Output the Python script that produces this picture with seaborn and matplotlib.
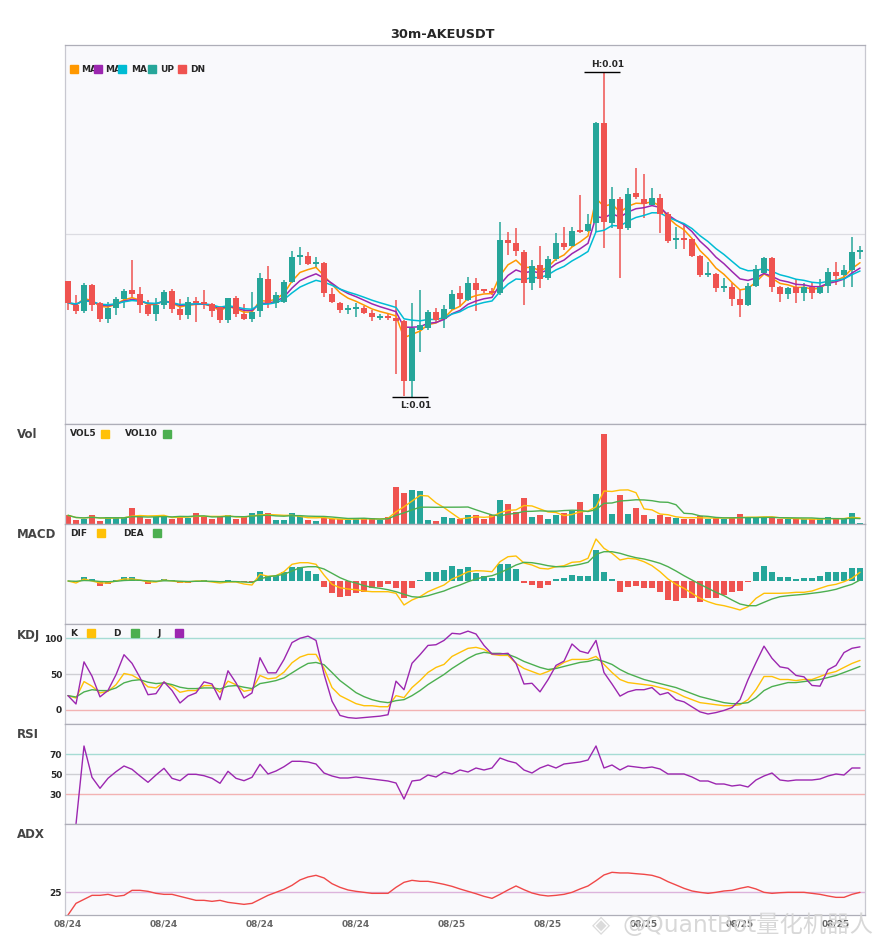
"""30m AKEUSDT candlestick chart with Vol / MACD / KDJ / RSI / ADX panels."""

import matplotlib
matplotlib.use("Agg")
import matplotlib.pyplot as plt
from matplotlib.patches import Rectangle
import numpy as np
import pandas as pd
import seaborn as sns

sns.set_theme(style="white")
plt.rcParams["font.family"] = ["DejaVu Sans", "Noto Sans CJK SC"]

SYMBOL = "30m-AKEUSDT"

# 30m candles, prices in 1e-6 USDT
open_u = [
    9770, 9650, 9620, 9750, 9660, 9580, 9635, 9680, 9725, 9705,
    9650, 9605, 9650, 9720, 9630, 9600, 9670, 9660, 9655, 9640,
    9575, 9685, 9605, 9580, 9620, 9780, 9660, 9665, 9765, 9890,
    9895, 9855, 9860, 9705, 9660, 9625, 9630, 9635, 9610, 9585,
    9590, 9585, 9570, 9265, 9525, 9535, 9615, 9580, 9630, 9710,
    9675, 9760, 9725, 9715, 9710, 9975, 9960, 9915, 9760, 9850,
    9785, 9880, 9960, 9945, 10020, 10020, 10060, 10560, 10060, 10180,
    10035, 10210, 10180, 10150, 10185, 10105, 9975, 9980, 9980, 9895,
    9800, 9805, 9735, 9740, 9680, 9650, 9745, 9810, 9885, 9740,
    9705, 9740, 9710, 9740, 9710, 9745, 9815, 9800, 9825, 9915,
]
high_u = [
    9770, 9700, 9760, 9755, 9665, 9665, 9690, 9730, 9875, 9740,
    9675, 9685, 9725, 9730, 9680, 9690, 9690, 9725, 9660, 9645,
    9685, 9695, 9655, 9715, 9810, 9845, 9715, 9775, 9920, 9940,
    9915, 9890, 9865, 9735, 9665, 9650, 9660, 9645, 9625, 9605,
    9605, 9675, 9575, 9660, 9725, 9625, 9635, 9650, 9725, 9745,
    9790, 9785, 9730, 9735, 10065, 10015, 10035, 9925, 9875, 9945,
    9895, 10010, 10040, 10040, 10200, 10105, 10565, 10820, 10240, 10190,
    10235, 10335, 10305, 10235, 10205, 10115, 10040, 10050, 9985, 9900,
    9865, 9810, 9785, 9760, 9725, 9760, 9850, 9890, 9890, 9745,
    9740, 9780, 9760, 9765, 9780, 9835, 9865, 9850, 9990, 9945,
]
low_u = [
    9625, 9605, 9610, 9620, 9565, 9560, 9600, 9635, 9685, 9610,
    9595, 9570, 9630, 9610, 9575, 9580, 9565, 9630, 9590, 9560,
    9560, 9590, 9575, 9565, 9590, 9635, 9635, 9660, 9760, 9850,
    9850, 9835, 9690, 9660, 9610, 9605, 9590, 9605, 9570, 9575,
    9575, 9300, 9190, 9185, 9410, 9525, 9560, 9535, 9625, 9640,
    9670, 9620, 9710, 9700, 9700, 9900, 9895, 9650, 9725, 9735,
    9775, 9870, 9925, 9940, 10010, 10015, 10015, 9935, 10035, 9785,
    10025, 10180, 10085, 10145, 10010, 9960, 9930, 9930, 9890, 9790,
    9790, 9715, 9715, 9645, 9590, 9645, 9740, 9805, 9715, 9665,
    9680, 9660, 9670, 9680, 9705, 9710, 9750, 9740, 9740, 9880,
]
close_u = [
    9660, 9620, 9750, 9650, 9580, 9635, 9680, 9720, 9705, 9650,
    9605, 9650, 9715, 9630, 9600, 9665, 9660, 9655, 9620, 9575,
    9685, 9605, 9580, 9615, 9785, 9660, 9700, 9765, 9890, 9900,
    9855, 9860, 9710, 9665, 9625, 9630, 9635, 9610, 9590, 9590,
    9585, 9570, 9265, 9535, 9550, 9615, 9575, 9630, 9705, 9680,
    9760, 9725, 9720, 9710, 9975, 9960, 9920, 9760, 9845, 9780,
    9880, 9960, 9940, 10020, 10015, 10055, 10560, 10065, 10180, 10030,
    10205, 10190, 10155, 10185, 10105, 9970, 9980, 9975, 9895, 9800,
    9805, 9735, 9740, 9680, 9650, 9745, 9830, 9885, 9740, 9705,
    9735, 9710, 9740, 9710, 9740, 9815, 9795, 9825, 9915, 9920,
]
# volume, thousands
volume_k = [
    87, 43, 53, 87, 33, 73, 60, 60, 163, 67,
    53, 70, 80, 53, 83, 60, 113, 73, 53, 80,
    93, 53, 67, 113, 127, 113, 37, 43, 113, 77,
    43, 33, 60, 53, 53, 40, 47, 60, 60, 43,
    73, 373, 313, 343, 327, 43, 33, 73, 60, 47,
    87, 93, 47, 93, 243, 203, 120, 263, 73, 93,
    53, 93, 110, 127, 223, 93, 303, 903, 103, 293,
    103, 163, 93, 53, 87, 67, 60, 50, 53, 83,
    53, 60, 50, 57, 100, 73, 60, 67, 60, 50,
    47, 47, 47, 53, 47, 73, 47, 53, 113, 13,
]
# MACD, 1e-6
dif = [
    0, -2, 2, 0, -2, -2, 0, 2, 2, 1,
    -1, -1, 1, 0, -1, -1, 0, 0, -1, -2,
    -1, -1, -3, -4, 6.7, 4.7, 5.3, 9.3, 16.7, 18.3,
    18.3, 16.7, 6, -3.3, -6.7, -8, -8.7, -10, -10.7, -10.7,
    -10.7, -12.3, -24, -19, -15.7, -10.7, -7.3, -4, 2, 5.3,
    9.3, 10.3, 10, 9.3, 19.3, 24.3, 25, 18, 16, 12.7,
    12, 14.3, 15.3, 18.7, 19.3, 22.7, 42, 32.7, 27.7, 21,
    22.7, 22, 19.3, 15.3, 9.3, 2, -3.3, -7.3, -12.3, -17.3,
    -20.7, -23.3, -24.7, -26.7, -29, -25.7, -17.3, -12.3, -12.3, -12.3,
    -12, -11.3, -11.3, -10, -7.3, -4.7, -3.3, -0.7, 2.7, 8.7,
]
dea = [
    0, -0.3, 0.5, 0.3, -0.5, -0.7, -0.3, 0.5, 0.8, 0.7,
    0.2, -0.2, 0.2, 0.2, -0.2, -0.5, -0.3, -0.2, -0.3, -0.7,
    -0.5, -0.6, -1, -1.5, 2, 4.3, 5.3, 6.7, 10, 13.3,
    14.3, 14.3, 12, 7.7, 3.3, 0, -2, -4.7, -6.3, -7.3,
    -8.7, -10.7, -13.3, -15.7, -16.3, -14.7, -12.3, -10, -6.7, -4,
    -0.7, 2, 4, 5.3, 8.3, 12, 16, 18.7, 18.3, 17,
    15.3, 14.3, 14.3, 15.3, 16.7, 18.7, 26.7, 29.3, 29.3, 27.7,
    25.3, 23.3, 22, 20, 17.7, 14.3, 10, 5.3, 1, -3.3,
    -7.3, -11.3, -14.7, -19, -23, -24.7, -24.7, -21.3, -18, -15.7,
    -14.7, -14, -13.3, -12.3, -11.3, -10, -8.3, -5.7, -3.3, 1,
]
macd_hist = [
    0, -1, 4.3, 2, -4.7, -3.3, 1, 4.3, 4.3, 1,
    -3.3, -1.3, 2, 1.3, -2.3, -2, -0.7, 0.7, -1.3, -1.3,
    1, -0.7, -0.7, -0.7, 9.3, 5.3, 5.3, 9.3, 14.3, 14.3,
    10, 6.7, -5.7, -12.3, -15.7, -14.7, -12.3, -10.7, -7.3, -5.7,
    -3.3, -6.7, -17.3, -7.3, 1, 9.3, 9.3, 10.7, 15.3, 12,
    14.3, 8.3, 5, 3.3, 16.7, 16.7, 12, -1.7, -4, -7.3,
    -4, 2, 2.7, 6, 5, 5, 31, 9.3, 2, -10.7,
    -5.7, -5, -7.3, -7.3, -10.7, -19, -20, -16.7, -17.3, -20.7,
    -17.3, -17.3, -14, -11.3, -9.7, -0.7, 9.3, 15, 9.3, 4.3,
    4.3, 2, 3.3, 3.3, 5, 9.3, 9.3, 9.3, 13.3, 13.3,
]
kdj_k = [
    19.7, 16.4, 39.4, 32.9, 23.5, 25.8, 35, 50.7, 48.4, 42,
    32, 30.5, 38.5, 32.9, 24.4, 26.8, 26.8, 33.8, 33.8, 24.4,
    40, 35, 25.8, 28, 47.9, 43.2, 44.6, 52.6, 65.7, 73.7,
    77.5, 77.5, 58, 31, 19.7, 14.1, 8.5, 5.6, 5.6, 4.2,
    4.2, 19.7, 16.9, 31, 40.8, 52.1, 59.2, 63.4, 74.6, 80.3,
    85.9, 87.3, 84.5, 77.5, 76, 76, 64.8, 57.7, 53.5, 49.3,
    53.5, 59.2, 66.2, 70.4, 70.4, 70.4, 74.6, 63.4, 52.1, 42.3,
    38, 36.6, 35.2, 33.8, 31, 28.2, 23.9, 18.3, 14.1, 9.9,
    8.5, 7, 5.6, 5.6, 7, 14.1, 28.2, 46.5, 46.5, 42.3,
    42.3, 40.8, 42.3, 42.3, 46.5, 50.7, 53.5, 59.2, 64.8, 69,
]
kdj_d = [
    19.7, 17.8, 24.9, 28, 26.8, 26.8, 30.5, 37.6, 40.8, 42,
    38.5, 36.6, 37.6, 35.2, 31.5, 29.6, 29.6, 30.5, 30.5, 29,
    32.9, 33.8, 31.5, 29.6, 36.6, 38.5, 40.8, 44.6, 51.6, 58.6,
    64.8, 66.2, 63, 52.1, 40.8, 32.4, 23.9, 18.3, 14.1, 11.3,
    9.9, 12.7, 14.1, 19.7, 26.8, 35.2, 42.3, 49.3, 57.7, 64.8,
    71.8, 77.5, 80.3, 78.9, 78.9, 77.5, 73.2, 67.6, 63.4, 59.2,
    56.3, 57.7, 60.6, 63.4, 66.2, 67.6, 70.4, 67.6, 63.4, 56.3,
    50.7, 46.5, 42.3, 39.4, 36.6, 33.8, 31, 26.8, 22.5, 18.3,
    15.5, 12.7, 9.9, 8.5, 8.5, 9.9, 16.9, 26.8, 32.4, 35.2,
    38, 38, 39.4, 40.8, 42.3, 45.1, 47.9, 52.1, 56.3, 60.6,
]
kdj_j = [
    19.7, 8, 67, 47, 18, 27, 49, 77, 65, 45,
    21, 22.5, 39, 27, 9.4, 19, 23.5, 39, 36, 14,
    54.5, 37.6, 16.4, 23.5, 72.8, 51.6, 51.6, 70.4, 94, 100,
    103, 97, 50, 12, -8, -11, -12, -11, -10, -9,
    -7, 40, 28, 65, 77, 90, 91, 97, 107, 106,
    110, 106, 90, 78, 78, 79, 65, 36, 37, 25,
    42, 62, 68, 92, 82, 79, 97, 52, 36, 19,
    25, 28, 28, 31, 21, 24, 14, 11, 4, -3,
    -6, -4, -1, 3, 14, 42, 66, 89, 72, 60,
    58, 48, 46, 34, 33, 56, 62, 80, 86, 88,
]
rsi = [
    np.nan, 0, 78, 46.7, 35.7, 45.7, 52.3, 58, 54.7, 48,
    41.7, 49, 55.7, 45.7, 43.3, 49.7, 49.7, 48.3, 45.7, 40.7,
    52.7, 45.7, 43.3, 46.7, 59.7, 50, 53, 57.3, 62.7, 62.7,
    62, 60, 51, 48, 46, 46, 47, 46, 45, 44,
    43, 41, 25, 43, 44, 49, 47, 52, 50, 54,
    52, 56, 54, 56, 66, 63, 61, 54, 51, 56,
    59, 56, 60, 61, 62, 64, 78, 56, 59, 54,
    58, 57, 56, 57, 55, 50, 50, 50, 47, 43,
    43, 40, 40, 38, 39, 37, 44, 48, 51, 44,
    43, 44, 44, 44, 45, 48, 50, 49, 56, 56,
]
adx = [
    0, 12.8, 17.2, 21.6, 21.6, 22.7, 20.5, 21.6, 27.1, 27.1,
    26, 23.8, 22.7, 22.7, 20.5, 18.3, 16.1, 16.1, 15, 16.1,
    13.9, 12.8, 11.7, 12.8, 17.2, 21.6, 24.9, 28.2, 32.6, 38.5,
    41.8, 43.6, 40.7, 34.4, 30.4, 27.5, 26, 24.9, 23.8, 23.8,
    23.8, 30.4, 35.9, 38.1, 37, 37, 35.5, 33.7, 31.5, 28.6,
    26, 23.4, 20.5, 18.3, 22.7, 27.5, 31.9, 27.8, 24.2, 22,
    20.9, 21.6, 22.7, 24.9, 28.6, 31.9, 37.7, 44, 46.9, 46.2,
    46.2, 45.4, 44.7, 43.6, 41, 36.6, 33, 29.3, 26.4, 24.9,
    23.8, 24.9, 26.4, 27.1, 29.3, 31.1, 28.6, 24.9, 23.8, 24.5,
    24.9, 24.9, 24.9, 23.8, 22.7, 20.9, 19.4, 19.4, 22.7, 24.9,
]
date_labels = ["08/24", "08/24", "08/24", "08/24", "08/25", "08/25", "08/25", "08/25", "08/25"]
TICK_STEP = 12
MA_SPANS = [5, 8, 12]

UP, DN = "#26a69a", "#ef5350"
MA_COLORS = ["#ff9800", "#9c27b0", "#00bcd4"]
AMBER, GREEN, PURPLE = "#ffc107", "#4caf50", "#9c27b0"
BG = "#f9f9fc"
FIG_W, FIG_H = 885, 950
LEFT, RIGHT = 65, 865

n = len(close_u)
assert all(len(a) == n for a in [open_u, high_u, low_u, volume_k, dif, dea, macd_hist,
                                  kdj_k, kdj_d, kdj_j, rsi, adx])
idx = np.arange(n)
df = pd.DataFrame({
    "open": np.array(open_u) * 1e-6,
    "high": np.array(high_u) * 1e-6,
    "low": np.array(low_u) * 1e-6,
    "close": np.array(close_u) * 1e-6,
    "volume": np.array(volume_k) * 1e3,
})
candle_colors = np.where(df["close"] >= df["open"], UP, DN)

fig = plt.figure(figsize=(FIG_W / 100, FIG_H / 100), dpi=100)


def add_panel(top, bottom):
    ax = fig.add_axes([LEFT / FIG_W, 1 - bottom / FIG_H, (RIGHT - LEFT) / FIG_W, (bottom - top) / FIG_H])
    ax.set_facecolor(BG)
    ax.set_xlim(-0.375, n - 0.375)
    for name, spine in ax.spines.items():
        spine.set_color("#aeaeb8" if name in ("top", "bottom") else "#c8c8d0")
        spine.set_linewidth(0.9)
    ax.tick_params(length=0, labelsize=6.5, pad=2)
    ax.set_xticks([])
    ax.set_yticks([])
    return ax


def fig_square(x, y, color, size=7.5):
    fig.add_artist(Rectangle((x / FIG_W, 1 - (y + size) / FIG_H), size / FIG_W, size / FIG_H,
                             transform=fig.transFigure, color=color, zorder=5))


def fig_label(x, y, text, size=6.5, **kw):
    fig.text(x / FIG_W, 1 - y / FIG_H, text, fontsize=size, fontweight="bold",
             va="center", ha="left", **kw)


def line(ax, y, color, lw=1.0):
    sns.lineplot(x=idx, y=np.asarray(y, dtype=float), color=color, linewidth=lw, ax=ax, errorbar=None)
    ax.set(xlabel="", ylabel="")


# ---- price panel ----
ax = add_panel(45, 424)
lo, hi = df["low"].min(), df["high"].max()
span = hi - lo
ax.set_ylim(lo - 0.082 * span, hi + 0.082 * span)
ax.axhline((lo + hi) / 2, color="#dcdce2", lw=0.9, zorder=0)
body_min = span * 1.164 / 325 * 1.4
body = np.maximum((df["close"] - df["open"]).abs(), body_min)
ax.vlines(idx, df["low"], df["high"], colors=candle_colors, lw=1.1, zorder=2)
ax.bar(idx, body, bottom=np.minimum(df["open"], df["close"]), width=0.75,
       color=candle_colors, linewidth=0, zorder=3)
for s, c in zip(MA_SPANS, MA_COLORS):
    line(ax, df["close"].ewm(span=s, adjust=False).mean(), c, 1.1)

hi_i, lo_i = int(df["high"].idxmax()), int(df["low"].idxmin())
ax.hlines(hi, hi_i - 2.5, hi_i + 2, color="black", lw=1, zorder=5)
ax.annotate(f"H:{hi:.2f}", (hi_i + 0.5, hi), xytext=(0, 2.2), textcoords="offset points",
            ha="center", va="bottom", fontsize=6.5, fontweight="bold")
ax.hlines(lo, lo_i - 2.5, lo_i + 2, color="black", lw=1, zorder=5)
ax.annotate(f"L:{lo:.2f}", (lo_i + 0.5, lo), xytext=(0, -2.5), textcoords="offset points",
            ha="center", va="top", fontsize=6.5, fontweight="bold")

for x, c in zip([70, 94, 118, 148, 178], MA_COLORS + [UP, DN]):
    fig_square(x, 65, c)
for x, t in zip([81, 105, 131, 160, 190], ["MA", "MA", "MA", "UP", "DN"]):
    fig_label(x, 69, t)

# ---- volume ----
ax_v = add_panel(424, 524)
ax_v.bar(idx, df["volume"], width=0.75, color=candle_colors, linewidth=0)
line(ax_v, df["volume"].rolling(5, min_periods=1).mean(), AMBER)
line(ax_v, df["volume"].rolling(10, min_periods=1).mean(), GREEN)
ax_v.set_ylim(0, df["volume"].max() * 1.107)
fig_label(70, 433.5, "VOL5")
fig_square(101, 430, AMBER)
fig_label(125, 433.5, "VOL10")
fig_square(163, 430, GREEN)

# ---- MACD ----
ax_m = add_panel(524, 624)
hist = np.array(macd_hist)
ax_m.bar(idx, hist, width=0.75, color=np.where(hist >= 0, UP, DN), linewidth=0)
line(ax_m, dif, AMBER)
line(ax_m, dea, GREEN)
ax_m.set_ylim(-43, 57)
fig_label(70, 533, "DIF")
fig_square(97, 529, AMBER)
fig_label(123, 533, "DEA")
fig_square(153, 529, GREEN)

# ---- KDJ ----
ax_k = add_panel(624, 724)
ax_k.axhline(100, color="#a6dcd4", lw=1)
ax_k.axhline(50, color="#cfcfd4", lw=1)
ax_k.axhline(0, color="#f3b3b3", lw=1)
line(ax_k, kdj_k, AMBER)
line(ax_k, kdj_d, GREEN)
line(ax_k, kdj_j, PURPLE)
ax_k.set_ylim(-20, 120)
ax_k.set_yticks([0, 50, 100])
ax_k.set_yticklabels(["0", "50", "100"], fontweight="bold")
fig_label(70, 633, "K")
fig_square(87, 629, AMBER)
fig_label(113, 633, "D")
fig_square(131, 629, GREEN)
fig_label(157, 633, "J")
fig_square(175, 629, PURPLE)

# ---- RSI ----
ax_r = add_panel(724, 824)
ax_r.axhline(70, color="#a6dcd4", lw=1)
ax_r.axhline(50, color="#cfcfd4", lw=1)
ax_r.axhline(30, color="#f3b3b3", lw=1)
line(ax_r, rsi, PURPLE)
ax_r.set_ylim(0, 100)
ax_r.set_yticks([30, 50, 70])
ax_r.set_yticklabels(["30", "50", "70"], fontweight="bold")

# ---- ADX ----
ax_a = add_panel(824, 915)
ax_a.axhline(25, color="#dcb4dc", lw=1)
line(ax_a, adx, "#f04848")
ax_a.set_ylim(0, 100)
ax_a.set_yticks([25])
ax_a.set_yticklabels(["25"], fontweight="bold")
ax_a.set_xticks(idx[::TICK_STEP])
ax_a.set_xticklabels(date_labels, fontweight="bold", color="#666666")
ax_a.tick_params(axis="x", pad=3)

for ax_ in [ax, ax_v, ax_m, ax_k, ax_r, ax_a]:
    ax_.set_xlim(-0.375, n - 0.375)

for y, t in zip([435, 535, 635, 735, 835], ["Vol", "MACD", "KDJ", "RSI", "ADX"]):
    fig_label(17, y, t, size=8.5, color="#444444")

fig.text(0.5, 1 - 34 / FIG_H, SYMBOL, ha="center", va="center", fontsize=9.3, fontweight="bold")

# watermark (sits over the last date labels, as in the source image)
fig.text(592 / FIG_W, 1 - 925 / FIG_H, "◈", fontsize=17, color="#d8d8d8", va="center", ha="left",
         alpha=0.9)
fig.text(622 / FIG_W, 1 - 925 / FIG_H, "@QuantBot量化机器人", fontsize=16.8, color="#d4d4d4",
         va="center", ha="left", alpha=0.9, family=["DejaVu Sans", "Noto Sans CJK SC"])

fig.savefig("out.png", dpi=100)
plt.close(fig)
